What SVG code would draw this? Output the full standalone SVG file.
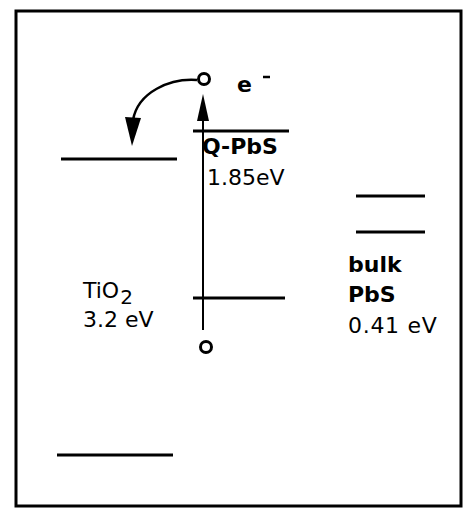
<svg xmlns="http://www.w3.org/2000/svg" width="474" height="517" viewBox="0 0 474 517">
<style>
.lvl{stroke:#000;stroke-width:3;fill:none}
.t{font-family:"DejaVu Sans",sans-serif;font-size:22px;fill:#000}
.b{font-weight:bold}
.hole{fill:none;stroke:#000;stroke-width:3}
</style>
<rect x="0" y="0" width="474" height="517" fill="#fff"/>
<rect x="16" y="11" width="445" height="495" fill="none" stroke="#000" stroke-width="3"/>
<g id="tio2">
<line class="lvl" x1="61" y1="159" x2="177" y2="159"/>
<line class="lvl" x1="57" y1="455" x2="173" y2="455"/>
<text class="t" x="83" y="298">TiO<tspan font-size="20" dx="1" dy="6">2</tspan></text>
<text class="t" x="83" y="327">3.2 eV</text>
</g>
<g id="qpbs">
<line class="lvl" x1="193" y1="131" x2="289" y2="131"/>
<line class="lvl" x1="193" y1="298" x2="285" y2="298"/>
<text class="t b" x="202" y="154">Q-PbS</text>
<text class="t" x="207" y="185">1.85eV</text>
</g>
<g id="bulk">
<line class="lvl" x1="356" y1="196" x2="425" y2="196"/>
<line class="lvl" x1="356" y1="232" x2="425" y2="232"/>
<text class="t b" x="348" y="272">bulk</text>
<text class="t b" x="348" y="302">PbS</text>
<text class="t" x="348" y="333" letter-spacing="0.7">0.41 eV</text>
</g>
<g id="electron">
<circle class="hole" cx="204" cy="79" r="5.5"/>
<text class="t b" x="237" y="92">e</text>
<line x1="263" y1="77" x2="270" y2="77" stroke="#000" stroke-width="2.5"/>
</g>
<g id="hole">
<circle class="hole" cx="206" cy="347" r="5.5"/>
</g>
<g id="connectors">
<line x1="203" y1="330" x2="203" y2="118" stroke="#000" stroke-width="2"/>
<polygon points="197,121 209,121 203,94" fill="#000"/>
<path d="M197,80 C170,78 138,92 133,120" fill="none" stroke="#000" stroke-width="2.5"/>
<polygon points="125,117 141,118 132,146" fill="#000"/>
</g>
</svg>
